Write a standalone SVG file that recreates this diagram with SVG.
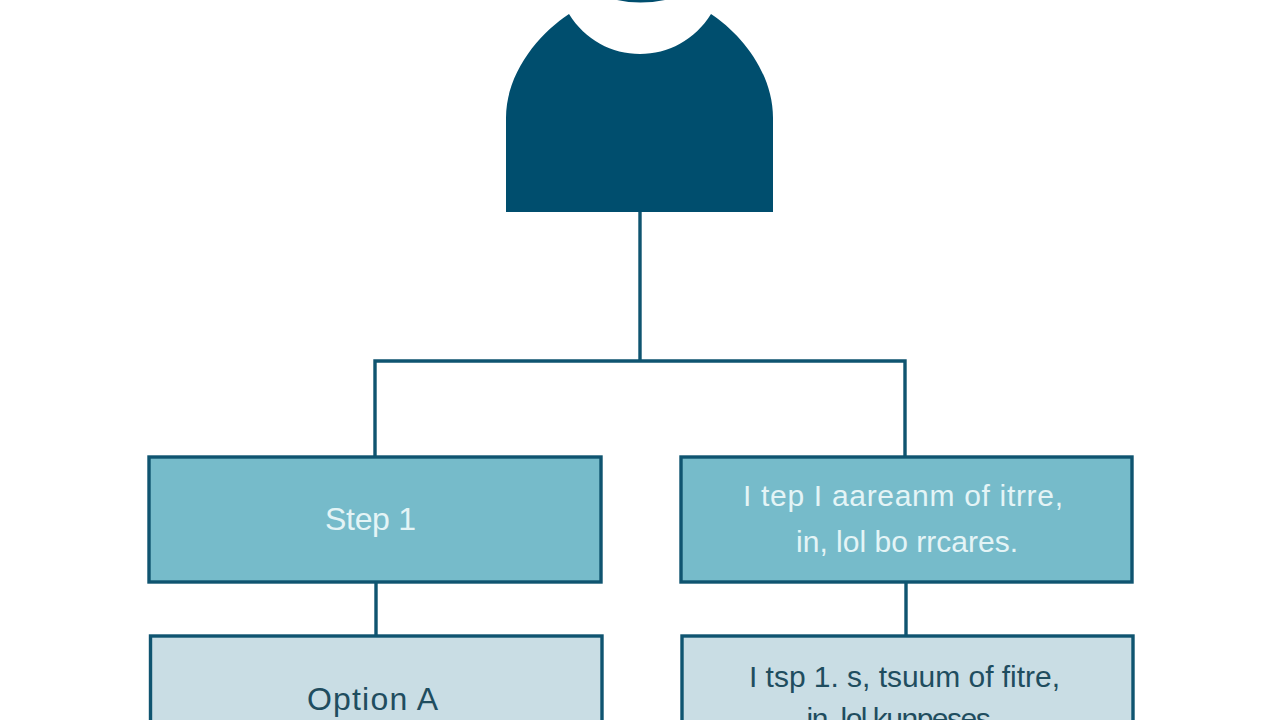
<svg xmlns="http://www.w3.org/2000/svg" width="1280" height="720" viewBox="0 0 1280 720">
<style>
.c{fill:none;stroke:#0f5470;stroke-width:3.4}
.s{fill:#76bbca;stroke:#0f5470;stroke-width:3.4}
.o{fill:#c9dde4;stroke:#0f5470;stroke-width:3.4}
.w{font-family:"Liberation Sans",Arial,sans-serif;font-size:30px;fill:#e4f4f6;text-anchor:middle}
.d{font-family:"Liberation Sans",Arial,sans-serif;font-size:30px;fill:#1f4d5f;text-anchor:middle}
.l{font-size:32px}
</style>
<rect width="1280" height="720" fill="#fff"/>
<g id="connectors">
<path class="c" d="M640 212V361M375 456V361H905V456M376 582V636M906 582V636"/>
</g>
<g id="person">
<path d="M569 14C585 40 612 54 640 54C668 54 695 40 711 14C740 33 773 72 773 118V212H506V118C506 72 540 33 569 14Z" fill="#004e6e"/>
<path d="M617 0Q640 5 665 0Z" fill="#004e6e"/>
</g>
<g id="step1"><rect class="s" x="149" y="457" width="452" height="125"/><text class="w l" x="370.500" y="530" textLength="91">Step 1</text></g>
<g id="step2"><rect class="s" x="681" y="457" width="451" height="125"/><text class="w" x="903" y="506" textLength="320">I tep I aareanm of itrre,</text><text class="w" x="907" y="552" textLength="222">in, lol bo rrcares.</text></g>
<g id="optionA"><rect class="o" x="150.500" y="636" width="451.500" height="100"/><text class="d l" x="372.500" y="710" textLength="131">Option A</text></g>
<g id="optionB"><rect class="o" x="682" y="636" width="451" height="100"/><text class="d" x="904.500" y="687" textLength="311">I tsp 1. s, tsuum of fitre,</text><text class="d" x="902" y="729" textLength="191">in, lol kunpeses.</text></g>
</svg>
